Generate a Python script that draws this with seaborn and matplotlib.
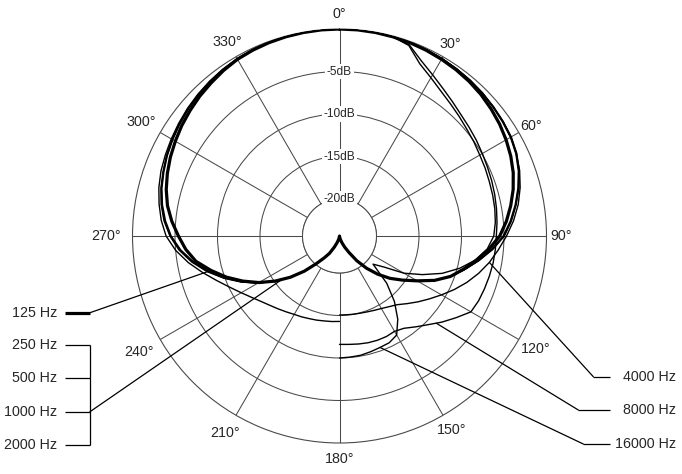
import numpy as np
import matplotlib
matplotlib.use("Agg")
import matplotlib.pyplot as plt
from matplotlib.lines import Line2D
import seaborn as sns

# ---------------- data ----------------
ang_full = list(range(0, 361, 5))          # degrees, clockwise from 0 (front)
db_125 = [0, -0.01, -0.04, -0.09, -0.15, -0.24, -0.35, -0.47, -0.62, -0.82,
          -1.08, -1.37, -1.72, -2.12, -2.6, -3.2, -3.9, -4.65, -5.5, -6.7,
          -8.0, -9.25, -10.45, -12.0, -13.8, -15.3, -16.6, -18.0, -19.4, -20.8,
          -22.1, -22.9, -23.5, -23.9, -24.15, -24.3, -24.35,
          -24.3, -24.15, -23.9, -23.5, -22.9, -22.0, -21.2, -20.1, -18.5,
          -16.8, -15.1, -13.4, -11.8, -10.2, -8.7, -7.2, -6.2, -5.4, -4.55,
          -3.8, -3.25, -2.8, -2.4, -2.05, -1.7, -1.4, -1.1, -0.85, -0.58,
          -0.35, -0.23, -0.14, -0.08, -0.04, -0.01, 0]
db_250 = [0, -0.01, -0.03, -0.07, -0.12, -0.18, -0.26, -0.35, -0.45, -0.58,
          -0.74, -0.9, -1.08, -1.4, -1.9, -2.55, -3.3, -4.1, -5.0, -6.3,
          -7.7, -9.1, -10.45, -12.0, -13.8, -15.3, -16.6, -18.0, -19.4, -20.8,
          -22.1, -22.9, -23.5, -23.9, -24.15, -24.3, -24.35,
          -24.3, -24.15, -23.9, -23.5, -22.9, -22.0, -21.2, -20.1, -18.5,
          -16.8, -15.1, -13.3, -11.6, -9.9, -8.3, -6.8, -5.5, -4.45, -3.7,
          -3.1, -2.65, -2.3, -1.95, -1.65, -1.37, -1.1, -0.86, -0.65, -0.46,
          -0.3, -0.2, -0.12, -0.07, -0.04, -0.01, 0]
db_500 = [0, -0.01, -0.03, -0.08, -0.13, -0.2, -0.28, -0.38, -0.48, -0.62,
          -0.78, -0.95, -1.13, -1.46, -1.96, -2.62, -3.37, -4.18, -5.1, -6.4,
          -7.75, -9.15, -10.45, -12.0, -13.8, -15.3, -16.6, -18.0, -19.4, -20.8,
          -22.1, -22.9, -23.5, -23.9, -24.15, -24.3, -24.35,
          -24.3, -24.15, -23.9, -23.5, -22.9, -22.0, -21.2, -20.1, -18.5,
          -16.8, -15.1, -13.35, -11.65, -9.95, -8.4, -6.9, -5.6, -4.55, -3.8,
          -3.2, -2.72, -2.36, -2.0, -1.7, -1.42, -1.14, -0.9, -0.68, -0.48,
          -0.32, -0.21, -0.13, -0.07, -0.04, -0.01, 0]
db_1000 = [0, -0.01, -0.03, -0.06, -0.11, -0.17, -0.24, -0.33, -0.43, -0.55,
           -0.71, -0.86, -1.02, -1.34, -1.85, -2.5, -3.25, -4.05, -4.95, -6.25,
           -7.7, -9.1, -10.45, -12.0, -13.8, -15.3, -16.6, -18.0, -19.4, -20.8,
           -22.1, -22.9, -23.5, -23.9, -24.15, -24.3, -24.35,
           -24.3, -24.15, -23.9, -23.5, -22.9, -22.0, -21.2, -20.1, -18.5,
           -16.8, -15.1, -13.25, -11.55, -9.85, -8.2, -6.7, -5.4, -4.4, -3.62,
           -3.05, -2.6, -2.25, -1.9, -1.6, -1.33, -1.06, -0.83, -0.62, -0.44,
           -0.28, -0.19, -0.11, -0.06, -0.03, -0.01, 0]

ang_left = list(range(180, 361, 5))
db_2000 = [-14.3, -14.25, -14.2, -14.1, -14.0, -13.85, -13.7, -13.45, -13.15,
           -12.8, -12.35, -11.75, -11.0, -10.1, -9.0, -7.7, -6.3, -5.0, -3.95,
           -3.3, -2.8, -2.35, -2.0, -1.75, -1.5, -1.25, -1.0, -0.78, -0.58,
           -0.4, -0.25, -0.16, -0.1, -0.06, -0.03, -0.01, 0]

ang_right = list(range(0, 181, 5))
db_4000 = [0, 0, -0.02, -0.05, -0.1, -0.17, -0.25, -0.35, -0.45, -0.57, -0.7,
           -0.85, -1.05, -1.4, -1.8, -2.35, -3.0, -3.8, -4.7, -5.6, -6.45,
           -7.4, -8.4, -9.45, -10.5, -11.45, -12.3, -13.1, -13.8, -14.2, -14.5,
           -14.7, -14.85, -14.95, -15.0, -15.05, -15.05]
db_8000 = [0, -0.01, -0.02, -0.08, -0.4, -1.6, -2.45, -3.15, -3.7, -4.15, -4.45,
           -4.7, -4.95, -5.15, -5.3, -5.45, -5.6, -5.75, -5.9, -5.95, -6.0,
           -6.1, -6.2, -6.3, -6.5, -7.6, -8.6, -9.6, -10.4, -11.1, -11.4,
           -11.3, -11.3, -11.35, -11.45, -11.55, -11.6]
db_16000 = [0, -0.01, -0.02, -0.1, -0.5, -2.0, -2.85, -3.55, -4.05, -4.45,
            -4.8, -5.05, -5.3, -5.45, -5.6, -5.7, -5.8, -5.95, -6.2, -6.9,
            -8.1, -9.7, -11.5, -13.6, -15.6, -18.0, -19.2, -16.5, -14.3, -12.4,
            -10.9, -10.5, -10.4, -10.25, -10.1, -10.05, -10.0]

ring_levels = [-5, -10, -15, -20]
angle_ticks = list(range(0, 360, 30))
legend_left = ["125 Hz", "250 Hz", "500 Hz", "1000 Hz", "2000 Hz"]
legend_right = ["4000 Hz", "8000 Hz", "16000 Hz"]

# ---------------- layout ----------------
sns.set_style("white")
plt.rcParams["font.family"] = ["Liberation Sans", "DejaVu Sans"]

W, H = 682, 474
fig = plt.figure(figsize=(W / 100, H / 100), dpi=100)
cx, cy, R = 339.5, 236.0, 207.0
DB_MIN = -24.35
ax = fig.add_axes([(cx - R) / W, (H - cy - R) / H, 2 * R / W, 2 * R / H],
                  projection="polar")
ax.set_theta_zero_location("N")
ax.set_theta_direction(-1)

GRID = "#4a4a4a"

def fpos(x, y):
    return (x / W, 1 - y / H)

# curves
def draw(ang, db, lw):
    sns.lineplot(x=np.deg2rad(ang), y=db, ax=ax, color="black", linewidth=lw,
                 sort=False, estimator=None, legend=False, zorder=3)

for d in (db_250, db_500, db_1000):
    draw(ang_full, d, 1.0)
draw(ang_left, db_2000, 1.0)
draw(ang_right, db_4000, 1.0)
draw(ang_right, db_8000, 1.0)
draw(ang_right, db_16000, 1.0)
draw(ang_full, db_125, 2.3)

ax.set_ylim(DB_MIN, 0)
ax.set_yticks(ring_levels)
ax.set_yticklabels([])
ax.set_xticks(np.deg2rad(angle_ticks))
ax.set_xticklabels([])
ax.set_xlabel("")
ax.set_ylabel("")
ax.set_axisbelow(True)
ax.grid(True, color=GRID, linewidth=0.75)
ax.spines["polar"].set_color(GRID)
ax.spines["polar"].set_linewidth(0.8)
ax.tick_params(length=0)

# blank centre inside the -20 dB ring
th = np.linspace(0, 2 * np.pi, 361)
ax.fill(th, np.full_like(th, ring_levels[-1]), facecolor="white",
        edgecolor=GRID, linewidth=0.75, zorder=1)

# dB labels on the 0 deg axis
for v in ring_levels:
    ax.text(0, v, f"{v}dB", ha="center", va="center", fontsize=8.6,
            zorder=2.5, bbox=dict(facecolor="white", edgecolor="none", pad=1.2))

# angle labels
lab_off = [15, 15, 14, 15, 19, 17, 16, 21, 24, 26, 22, 17]
for a, off in zip(angle_ticks, lab_off):
    t = np.deg2rad(a)
    ax.annotate(f"{a}°", xy=(t, 0), xytext=(off * np.sin(t), off * np.cos(t)),
                textcoords="offset pixels", ha="center", va="center",
                fontsize=10.3, annotation_clip=False)

# ---------------- legend / leaders ----------------
def fig_line(x0, y0, x1, y1, lw=0.9):
    (a0, b0), (a1, b1) = fpos(x0, y0), fpos(x1, y1)
    fig.add_artist(Line2D([a0, a1], [b0, b1], color="black", linewidth=lw,
                          solid_capstyle="butt"))

def leader(x, y, ang, angs, db):
    r = np.interp(ang, angs, db)
    ax.annotate("", xy=(np.deg2rad(ang), r), xycoords="data",
                xytext=fpos(x, y), textcoords="figure fraction",
                arrowprops=dict(arrowstyle="-", color="black", lw=0.9,
                                shrinkA=0, shrinkB=0),
                annotation_clip=False)

left_y = [312.7, 345.3, 378.0, 411.7, 445.0]
for lab, y in zip(legend_left, left_y):
    fig.text(*fpos(57, y), lab, ha="right", va="center", fontsize=10.3)
fig_line(65, left_y[0], 90, left_y[0], lw=2.3)
for y in left_y[1:]:
    fig_line(65, y, 90, y)
fig_line(90, left_y[1], 90, left_y[-1])
leader(90, left_y[0], 255, ang_full, db_125)
leader(90, left_y[3], 233, ang_full, db_1000)

right_y = [376.7, 410.0, 444.0]
right_x0 = [593.3, 578.3, 583.3]
for lab, y, x0 in zip(legend_right, right_y, right_x0):
    fig.text(*fpos(676, y), lab, ha="right", va="center", fontsize=10.3)
    fig_line(x0, y, 610, y)
leader(right_x0[0], right_y[0], 100, ang_right, db_4000)
leader(right_x0[1], right_y[1], 132, ang_right, db_8000)
leader(right_x0[2], right_y[2], 160, ang_right, db_16000)

fig.savefig("out.png", dpi=100, facecolor="white")
